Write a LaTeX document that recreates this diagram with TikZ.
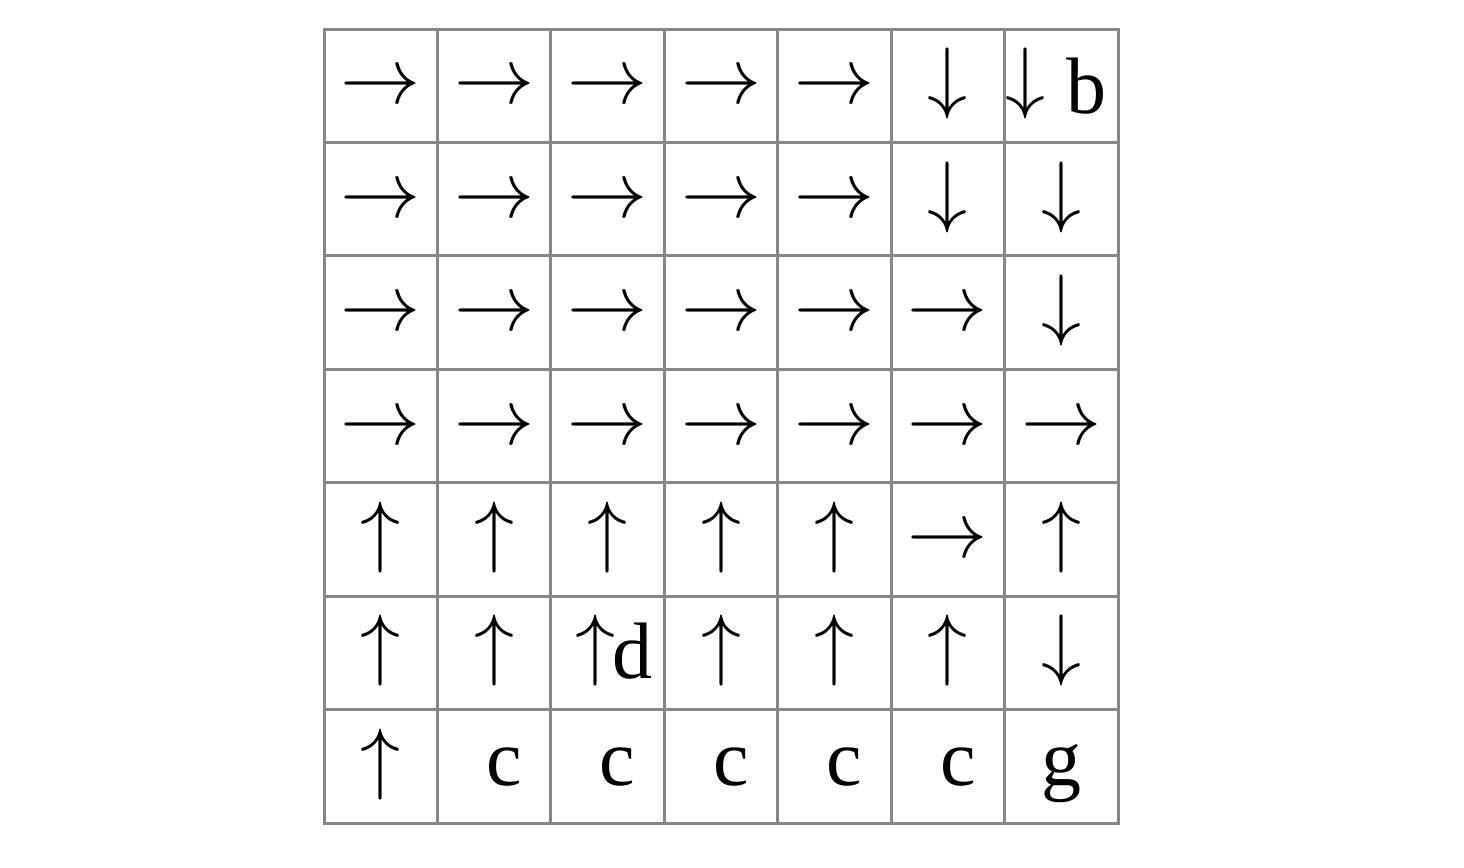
\documentclass[tikz,border=0pt]{standalone}
\usepackage{fontspec}
\newfontfamily\lettfont{LiberationSerif}[Extension=.ttf, UprightFont=*-Regular]
\newcommand\cellsz{113.43}
\begin{document}
\begin{tikzpicture}[x=0.5pt,y=-0.5pt,
  gridline/.style={draw=black!47, line width=1.5pt, line cap=rect},
  arr/.style={anchor=base, inner sep=0pt, scale=4, font=\fontsize{10}{12}\selectfont},
  lett/.style={anchor=base, inner sep=0pt, font=\lettfont\fontsize{40}{48}\selectfont}]
\useasboundingbox (0,0) rectangle (1464,868);
\fill[white] (0,0) rectangle (1464,868);
\foreach \i in {0,...,7} {
  \draw[gridline] ({324+\i*\cellsz},29) -- ({324+\i*\cellsz},823);
  \draw[gridline] (324,{29+\i*\cellsz}) -- (1118,{29+\i*\cellsz});
}
% arrows: row/col/symbol
\foreach \r/\row in {0/{R,R,R,R,R,D,X},1/{R,R,R,R,R,D,D},2/{R,R,R,R,R,R,D},3/{R,R,R,R,R,R,R},4/{U,U,U,U,U,R,U},5/{U,U,X,U,U,U,D},6/{U,X,X,X,X,X,X}} {
  \foreach \s [count=\c from 0] in \row {
    \if R\s \node[arr] (a\r\c) at ({324+(\c+0.5)*\cellsz},{29+(\r+0.5)*\cellsz+18}) {$\rightarrow$};\fi
    \if D\s \node[arr] (a\r\c) at ({324+(\c+0.5)*\cellsz},{29+(\r+0.5)*\cellsz+18}) {$\downarrow$};\fi
    \if U\s \node[arr] (a\r\c) at ({324+(\c+0.5)*\cellsz},{29+(\r+0.5)*\cellsz+18}) {$\uparrow$};\fi
  }
}
% special cells
\node[arr] (a06) at (1025,{29+0.5*\cellsz+18}) {$\downarrow$};
\node[lett] (b) at (1086,113) {b};
\node[arr] (a52) at (595.7,{29+5.5*\cellsz+18}) {$\uparrow$};
\node[lett] (d) at (632,678) {d};
\foreach \c in {1,...,5} {
  \node[lett] (c\c) at ({324+(\c+0.5)*\cellsz+10},785) {c};
}
\node[lett] (g) at ({324+6.5*\cellsz},785) {g};
\end{tikzpicture}
\end{document}
